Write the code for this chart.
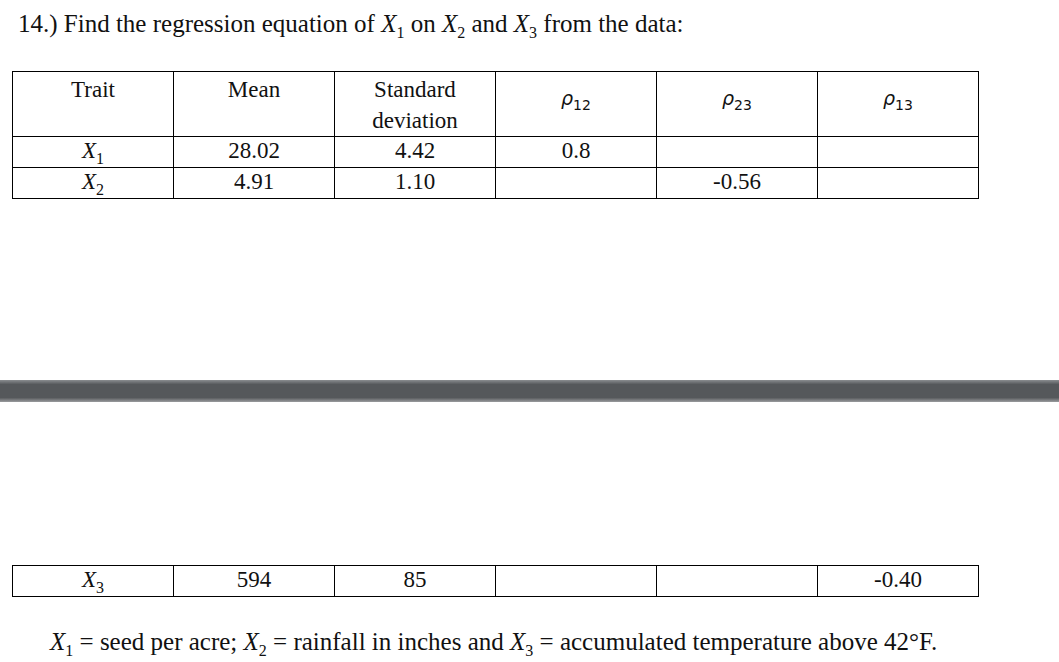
<!DOCTYPE html>
<html><head><meta charset="utf-8">
<script src="https://cdn.jsdelivr.net/npm/chart.js@4"></script>
<style>
body{margin:0;width:1059px;height:662px;background:#fff;font-family:"Liberation Serif",serif;color:#111;position:relative;overflow:hidden}
.t{position:absolute;font-size:25px;white-space:nowrap}
table{position:absolute;left:12px;border-collapse:collapse;font-size:23px;font-family:"Liberation Serif",serif}
td{border:1.5px solid #000;width:160px;text-align:center;padding:0;height:30px;line-height:28px;vertical-align:top;font-family:"Liberation Serif",serif}
.rho{font-family:"DejaVu Sans",sans-serif;font-size:19px;font-style:italic}
.rho sub{font-style:normal;font-size:14px}
i sub{font-style:normal;font-size:16px;line-height:0}
#bar{position:absolute;left:0;top:380px;width:1059px;height:22px;background:linear-gradient(#8a8d90,#55585b 20%,#55585b 80%,#9a9c9e)}
</style></head><body>
<div class="t" style="left:18px;top:10px">14.) Find the regression equation of <i>X<sub>1</sub></i> on <i>X<sub>2</sub></i> and <i>X<sub>3</sub></i> from the data:</div>
<table id="t1" style="top:71px"></table>
<div id="bar"></div>
<table id="t2" style="top:565px"></table>
<div class="t" style="left:50px;top:628px"><i>X<sub>1</sub></i> = seed per acre; <i>X<sub>2</sub></i> = rainfall in inches and <i>X<sub>3</sub></i> = accumulated temperature above 42°F.</div>
<script>
var headers = ['Trait','Mean','Standard<br>deviation','<span class="rho">ρ<sub>12</sub></span>','<span class="rho">ρ<sub>23</sub></span>','<span class="rho">ρ<sub>13</sub></span>'];
var traits = ['<i>X<sub>1</sub></i>','<i>X<sub>2</sub></i>','<i>X<sub>3</sub></i>'];
var means = ['28.02','4.91','594'];
var sds = ['4.42','1.10','85'];
var r12 = ['0.8','',''];
var r23 = ['','-0.56',''];
var r13 = ['','','-0.40'];
function row(i){return '<tr>'+[traits[i],means[i],sds[i],r12[i],r23[i],r13[i]].map(function(v){return '<td>'+v+'</td>'}).join('')+'</tr>';}
document.getElementById('t1').innerHTML='<tr>'+headers.map(function(h,k){return '<td style="height:61px;padding-top:2px;line-height:'+(k>2?'48px':'31px')+'">'+h+'</td>'}).join('')+'</tr>'+row(0)+row(1);
document.getElementById('t2').innerHTML=row(2);
</script>
</body></html>
